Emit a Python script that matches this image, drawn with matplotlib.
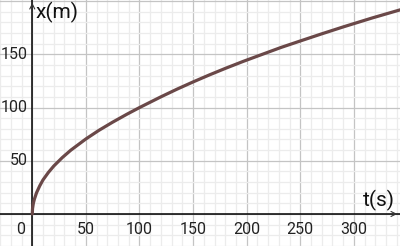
import numpy as np
import matplotlib.pyplot as plt

plt.rcParams['font.family'] = ['Roboto', 'DejaVu Sans']

# curve
t_vals = [0, 0.25, 1, 2, 4, 7, 10, 15, 20, 28, 36, 50, 62, 75, 88, 100,
          120, 135, 150, 165, 180, 197, 215, 232, 250, 270, 290, 317, 345]
x_vals = [0, 5, 10, 14, 20, 26.5, 32, 39, 45, 53, 60, 70.5, 78.5, 86.3, 93.6, 100,
          110.1, 117.3, 124.1, 130.6, 136.8, 143.5, 150.2, 156.5, 162.6, 169.3,
          175.8, 184.2, 192.4]

t_ticks = [50, 100, 150, 200, 250, 300]
x_ticks = [50, 100, 150]
t_label = 't(s)'
x_label = 'x(m)'

t_min, t_max = -30.1, 343
x_min, x_max = -30.1, 201.1

fig = plt.figure(figsize=(4, 2.46), dpi=100)
ax = fig.add_axes([0, 0, 1, 1])
ax.set_xlim(t_min, t_max)
ax.set_ylim(x_min, x_max)
for s in ax.spines.values():
    s.set_visible(False)
ax.set_xticks([])
ax.set_yticks([])

# grid: minor every 10, major every 50
for v in np.arange(-30, t_max, 10):
    major = v % 50 == 0
    ax.axvline(v, color='#c4c4c4' if major else '#ececec', lw=0.9, zorder=0)
for v in np.arange(-30, x_max, 10):
    major = v % 50 == 0
    ax.axhline(v, color='#c4c4c4' if major else '#ececec', lw=0.9, zorder=0)

# axes
ax.axhline(0, color='black', lw=1.1, zorder=1)
ax.axvline(0, color='black', lw=1.1, zorder=1)
ax.annotate('', xy=(t_max, 0), xytext=(t_max - 8, 0),
            arrowprops=dict(arrowstyle='->', color='#333333', lw=0.8,
                            mutation_scale=9))
ax.annotate('', xy=(0, x_max), xytext=(0, x_max - 8),
            arrowprops=dict(arrowstyle='->', color='#333333', lw=0.8,
                            mutation_scale=9))

# tick labels
for v in t_ticks:
    ax.text(v, -8, str(v), ha='center', va='top', fontsize=11.5, color='#222222')
for v in x_ticks:
    ax.text(-4.5, v, str(v), ha='right', va='center', fontsize=11.5, color='#222222')
ax.text(-7, -8, '0', ha='right', va='top', fontsize=11.5, color='#222222')

ax.text(3, 199, x_label, ha='left', va='top', fontsize=15, color='#111111')
ax.text(338, 3, t_label, ha='right', va='bottom', fontsize=15, color='#111111')

ax.plot(t_vals, x_vals, color='#6a4848', lw=2.3, solid_capstyle='round',
        solid_joinstyle='round', zorder=3)

fig.savefig('out.png', dpi=100)
